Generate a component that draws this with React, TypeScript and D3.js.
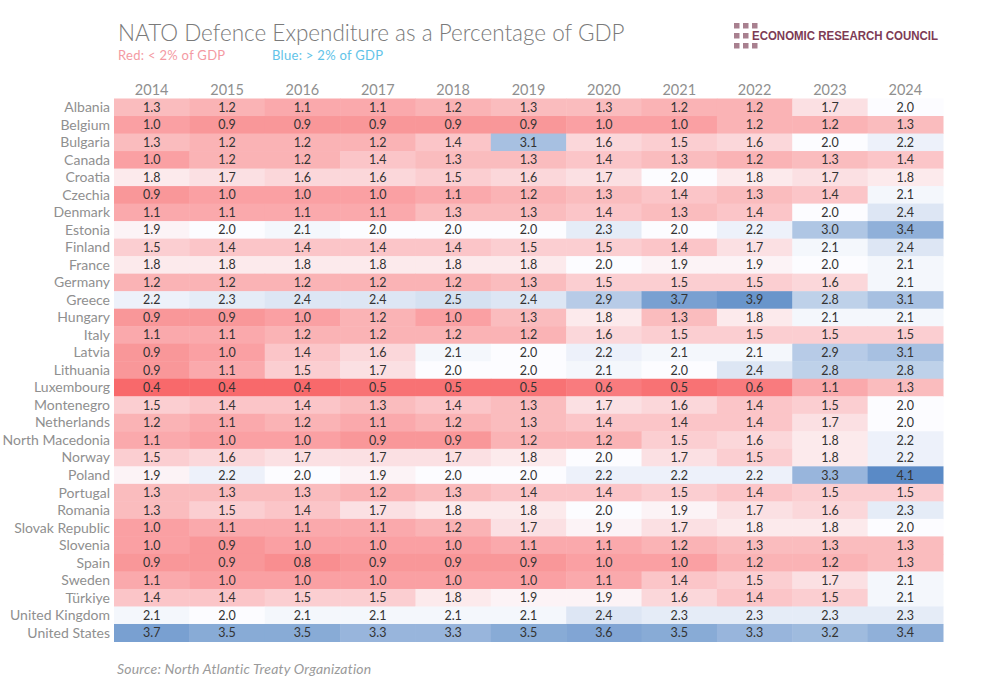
import React from 'react';
import * as d3 from 'd3';

const years = ['2014', '2015', '2016', '2017', '2018', '2019', '2020', '2021', '2022', '2023', '2024'];

const countries = [
  'Albania', 'Belgium', 'Bulgaria', 'Canada', 'Croatia', 'Czechia', 'Denmark', 'Estonia',
  'Finland', 'France', 'Germany', 'Greece', 'Hungary', 'Italy', 'Latvia', 'Lithuania',
  'Luxembourg', 'Montenegro', 'Netherlands', 'North Macedonia', 'Norway', 'Poland',
  'Portugal', 'Romania', 'Slovak Republic', 'Slovenia', 'Spain', 'Sweden', 'Türkiye',
  'United Kingdom', 'United States',
];

// one row per country, one value per year (% of GDP)
const values: number[][] = [
  [1.3, 1.2, 1.1, 1.1, 1.2, 1.3, 1.3, 1.2, 1.2, 1.7, 2.0],
  [1.0, 0.9, 0.9, 0.9, 0.9, 0.9, 1.0, 1.0, 1.2, 1.2, 1.3],
  [1.3, 1.2, 1.2, 1.2, 1.4, 3.1, 1.6, 1.5, 1.6, 2.0, 2.2],
  [1.0, 1.2, 1.2, 1.4, 1.3, 1.3, 1.4, 1.3, 1.2, 1.3, 1.4],
  [1.8, 1.7, 1.6, 1.6, 1.5, 1.6, 1.7, 2.0, 1.8, 1.7, 1.8],
  [0.9, 1.0, 1.0, 1.0, 1.1, 1.2, 1.3, 1.4, 1.3, 1.4, 2.1],
  [1.1, 1.1, 1.1, 1.1, 1.3, 1.3, 1.4, 1.3, 1.4, 2.0, 2.4],
  [1.9, 2.0, 2.1, 2.0, 2.0, 2.0, 2.3, 2.0, 2.2, 3.0, 3.4],
  [1.5, 1.4, 1.4, 1.4, 1.4, 1.5, 1.5, 1.4, 1.7, 2.1, 2.4],
  [1.8, 1.8, 1.8, 1.8, 1.8, 1.8, 2.0, 1.9, 1.9, 2.0, 2.1],
  [1.2, 1.2, 1.2, 1.2, 1.2, 1.3, 1.5, 1.5, 1.5, 1.6, 2.1],
  [2.2, 2.3, 2.4, 2.4, 2.5, 2.4, 2.9, 3.7, 3.9, 2.8, 3.1],
  [0.9, 0.9, 1.0, 1.2, 1.0, 1.3, 1.8, 1.3, 1.8, 2.1, 2.1],
  [1.1, 1.1, 1.2, 1.2, 1.2, 1.2, 1.6, 1.5, 1.5, 1.5, 1.5],
  [0.9, 1.0, 1.4, 1.6, 2.1, 2.0, 2.2, 2.1, 2.1, 2.9, 3.1],
  [0.9, 1.1, 1.5, 1.7, 2.0, 2.0, 2.1, 2.0, 2.4, 2.8, 2.8],
  [0.4, 0.4, 0.4, 0.5, 0.5, 0.5, 0.6, 0.5, 0.6, 1.1, 1.3],
  [1.5, 1.4, 1.4, 1.3, 1.4, 1.3, 1.7, 1.6, 1.4, 1.5, 2.0],
  [1.2, 1.1, 1.2, 1.1, 1.2, 1.3, 1.4, 1.4, 1.4, 1.7, 2.0],
  [1.1, 1.0, 1.0, 0.9, 0.9, 1.2, 1.2, 1.5, 1.6, 1.8, 2.2],
  [1.5, 1.6, 1.7, 1.7, 1.7, 1.8, 2.0, 1.7, 1.5, 1.8, 2.2],
  [1.9, 2.2, 2.0, 1.9, 2.0, 2.0, 2.2, 2.2, 2.2, 3.3, 4.1],
  [1.3, 1.3, 1.3, 1.2, 1.3, 1.4, 1.4, 1.5, 1.4, 1.5, 1.5],
  [1.3, 1.5, 1.4, 1.7, 1.8, 1.8, 2.0, 1.9, 1.7, 1.6, 2.3],
  [1.0, 1.1, 1.1, 1.1, 1.2, 1.7, 1.9, 1.7, 1.8, 1.8, 2.0],
  [1.0, 0.9, 1.0, 1.0, 1.0, 1.1, 1.1, 1.2, 1.3, 1.3, 1.3],
  [0.9, 0.9, 0.8, 0.9, 0.9, 0.9, 1.0, 1.0, 1.2, 1.2, 1.3],
  [1.1, 1.0, 1.0, 1.0, 1.0, 1.0, 1.1, 1.4, 1.5, 1.7, 2.1],
  [1.4, 1.4, 1.5, 1.5, 1.8, 1.9, 1.9, 1.6, 1.4, 1.5, 2.1],
  [2.1, 2.0, 2.1, 2.1, 2.1, 2.1, 2.4, 2.3, 2.3, 2.3, 2.3],
  [3.7, 3.5, 3.5, 3.3, 3.3, 3.5, 3.6, 3.5, 3.3, 3.2, 3.4],
];

const WIDTH = 1000;
const HEIGHT = 695;
const FONT = 'Lato, "Open Sans", sans-serif';

export default function App() {
  const x = d3.scaleBand<string>().domain(years).range([114, 943]).paddingInner(0);
  const y = d3.scaleBand<string>().domain(countries).range([98.5, 641.5]).paddingInner(0);

  const flat = values.flat();
  const [lo, hi] = d3.extent(flat) as [number, number];
  const color = d3.scaleLinear<string>()
    .domain([lo, 2.0, hi])
    .range(['#F8696B', '#FCFCFF', '#5A8AC6'])
    .interpolate(d3.interpolateRgb);

  // logo squares: 3 rows, middle row has only 2 (text takes the 3rd slot)
  const logoCols = [734, 743, 752];
  const logoRows = [23, 33, 43];

  return (
    <div style={{ position: 'absolute', left: 0, top: 0 }}>
      <svg width={WIDTH} height={HEIGHT} style={{ display: 'block', background: '#fff' }} fontFamily={FONT}>
        <text x={118} y={41} fontSize={22.5} fontWeight={300} fill="#7a7a7a">
          NATO Defence Expenditure as a Percentage of GDP
        </text>
        <text x={118} y={60} fontSize={13} fill="#f49aa3" letterSpacing={0.3}>Red: &lt; 2% of GDP</text>
        <text x={272} y={60} fontSize={13} fill="#62c3e8" letterSpacing={0.3}>Blue: &gt; 2% of GDP</text>

        {logoRows.map((ry, ri) =>
          logoCols
            .filter((_, ci) => !(ri === 1 && ci === 2))
            .map((cx) => (
              <rect key={`${ri}-${cx}`} x={cx} y={ry} width={5.5} height={5.5} fill="#a8808f" />
            ))
        )}
        <text x={752} y={40} fontSize={12} fontWeight={700} fill="#7d3b55"
          fontFamily='"Liberation Sans", Arial, sans-serif' textLength={186} lengthAdjust="spacingAndGlyphs">
          ECONOMIC RESEARCH COUNCIL
        </text>

        {years.map((yr) => (
          <text key={yr} x={(x(yr) ?? 0) + x.bandwidth() / 2} y={95} textAnchor="middle"
            fontSize={14.5} fill="#8f8f8f">
            {yr}
          </text>
        ))}

        {countries.map((c, ri) => (
          <g key={c}>
            <text x={110} y={(y(c) ?? 0) + y.bandwidth() / 2} dy="0.35em" textAnchor="end"
              fontSize={14} fill="#8f8f8f">
              {c}
            </text>
            {years.map((yr, ci) => {
              const v = values[ri][ci];
              return (
                <g key={yr}>
                  <rect x={x(yr)} y={y(c)} width={x.bandwidth() + 0.5} height={y.bandwidth() + 0.5}
                    fill={color(v)} />
                  <text x={(x(yr) ?? 0) + x.bandwidth() / 2} y={(y(c) ?? 0) + y.bandwidth() / 2}
                    dy="0.36em" textAnchor="middle" fontSize={12.5} fill="#333">
                    {v.toFixed(1)}
                  </text>
                </g>
              );
            })}
          </g>
        ))}

        <text x={117} y={674} fontSize={14} fontStyle="italic" fill="#9a9a9a" letterSpacing={0.2}>
          Source: North Atlantic Treaty Organization
        </text>
      </svg>
    </div>
  );
}
